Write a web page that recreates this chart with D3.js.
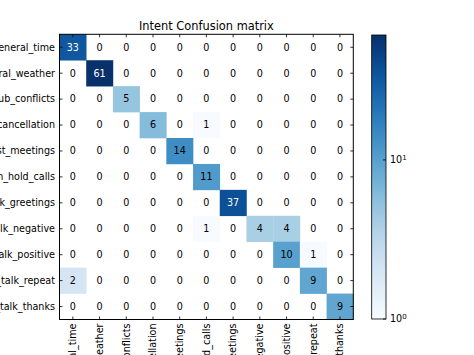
<!DOCTYPE html>
<html><head><meta charset="utf-8">
<script src="https://cdn.jsdelivr.net/npm/d3@7"></script>
<style>body{margin:0;background:#fff}svg{display:block}text{font-family:"DejaVu Sans",sans-serif}</style>
</head><body>
<script>
const classes = ["general_time","general_weather","meeting_sub_conflicts","meeting_cancellation","list_meetings","put_on_hold_calls","small_talk_greetings","small_talk_negative","small_talk_positive","small_talk_repeat","small_talk_thanks"];
const matrix = [
  [33,0,0,0,0,0,0,0,0,0,0],
  [0,61,0,0,0,0,0,0,0,0,0],
  [0,0,5,0,0,0,0,0,0,0,0],
  [0,0,0,6,0,1,0,0,0,0,0],
  [0,0,0,0,14,0,0,0,0,0,0],
  [0,0,0,0,0,11,0,0,0,0,0],
  [0,0,0,0,0,0,37,0,0,0,0],
  [0,0,0,0,0,1,0,4,4,0,0],
  [0,0,0,0,0,0,0,0,10,1,0],
  [2,0,0,0,0,0,0,0,0,9,0],
  [0,0,0,0,0,0,0,0,0,0,9]
];
const title = "Intent Confusion matrix";
const cbTicks = [1,10];

const W=474,H=355;
const L=59.5,R=353.3,T=34.3,B=319.5;
const svg=d3.select("body").append("svg").attr("width",W).attr("height",H);
const idx=d3.range(classes.length);
const x=d3.scaleBand().domain(idx).range([L,R]);
const y=d3.scaleBand().domain(idx).range([T,B]);
const vmax=d3.max(matrix.flat());
const color=d3.scaleSequentialLog(d3.interpolateBlues).domain([1,vmax]);
const cells=[];
matrix.forEach((row,i)=>row.forEach((v,j)=>cells.push({i,j,v})));
svg.append("g").selectAll("rect").data(cells.filter(d=>d.v>0)).join("rect")
  .attr("x",d=>x(d.j)).attr("y",d=>y(d.i)).attr("width",x.bandwidth()+0.3).attr("height",y.bandwidth()+0.3)
  .attr("fill",d=>color(d.v));
const thresh=vmax/2;
svg.append("g").selectAll("text").data(cells).join("text")
  .attr("x",d=>x(d.j)+x.bandwidth()/2).attr("y",d=>y(d.i)+y.bandwidth()/2)
  .attr("text-anchor","middle").attr("dy","0.35em").attr("font-size",9.6)
  .attr("fill",d=>d.v>thresh?"#fff":"#000").text(d=>d.v);
// axes frame
svg.append("rect").attr("x",L).attr("y",T).attr("width",R-L).attr("height",B-T).attr("fill","none").attr("stroke","#000").attr("stroke-width",1);
// ticks inward
const tk=svg.append("g").attr("stroke","#000").attr("stroke-width",0.8);
idx.forEach(k=>{
  const cx=x(k)+x.bandwidth()/2, cy=y(k)+y.bandwidth()/2;
  tk.append("line").attr("x1",cx).attr("x2",cx).attr("y1",B).attr("y2",B-3);
  tk.append("line").attr("x1",cx).attr("x2",cx).attr("y1",T).attr("y2",T+3);
  tk.append("line").attr("y1",cy).attr("y2",cy).attr("x1",L).attr("x2",L+3);
  tk.append("line").attr("y1",cy).attr("y2",cy).attr("x1",R).attr("x2",R-3);
});
// y labels
svg.append("g").selectAll("text").data(idx).join("text")
  .attr("x",L-4.5).attr("y",k=>y(k)+y.bandwidth()/2).attr("dy","0.35em")
  .attr("text-anchor","end").attr("font-size",9.6).text(k=>classes[k]);
// x labels rotated
svg.append("g").selectAll("text").data(idx).join("text")
  .attr("transform",k=>`translate(${x(k)+x.bandwidth()/2},${B+4})rotate(-90)`)
  .attr("dy","0.35em").attr("text-anchor","end").attr("font-size",9.6).text(k=>classes[k]);
// title
svg.append("text").attr("x",(L+R)/2).attr("y",30).attr("text-anchor","middle").attr("font-size",11.4).text(title);
// colorbar
const cbL=371.7,cbR=386,cbT=35,cbB=319;
const defs=svg.append("defs");
const grad=defs.append("linearGradient").attr("id","cbg").attr("x1",0).attr("x2",0).attr("y1",1).attr("y2",0);
d3.range(0,1.0001,0.05).forEach(t=>grad.append("stop").attr("offset",t).attr("stop-color",d3.interpolateBlues(t)));
svg.append("rect").attr("x",cbL).attr("y",cbT).attr("width",cbR-cbL).attr("height",cbB-cbT).attr("fill","url(#cbg)").attr("stroke","#000").attr("stroke-width",0.8);
const cy=d3.scaleLog().domain([1,vmax]).range([cbB,cbT]);
cbTicks.forEach(v=>{
  const yy=cy(v);
  svg.append("line").attr("x1",cbR).attr("x2",cbR-3).attr("y1",yy).attr("y2",yy).attr("stroke","#000").attr("stroke-width",0.8);
  const t=svg.append("text").attr("x",cbR+4).attr("y",yy).attr("dy","0.35em").attr("font-size",9.6);
  t.append("tspan").text("10");
  t.append("tspan").attr("dy","-0.45em").attr("font-size",7).text(Math.round(Math.log10(v)));
});
</script>
</body></html>
